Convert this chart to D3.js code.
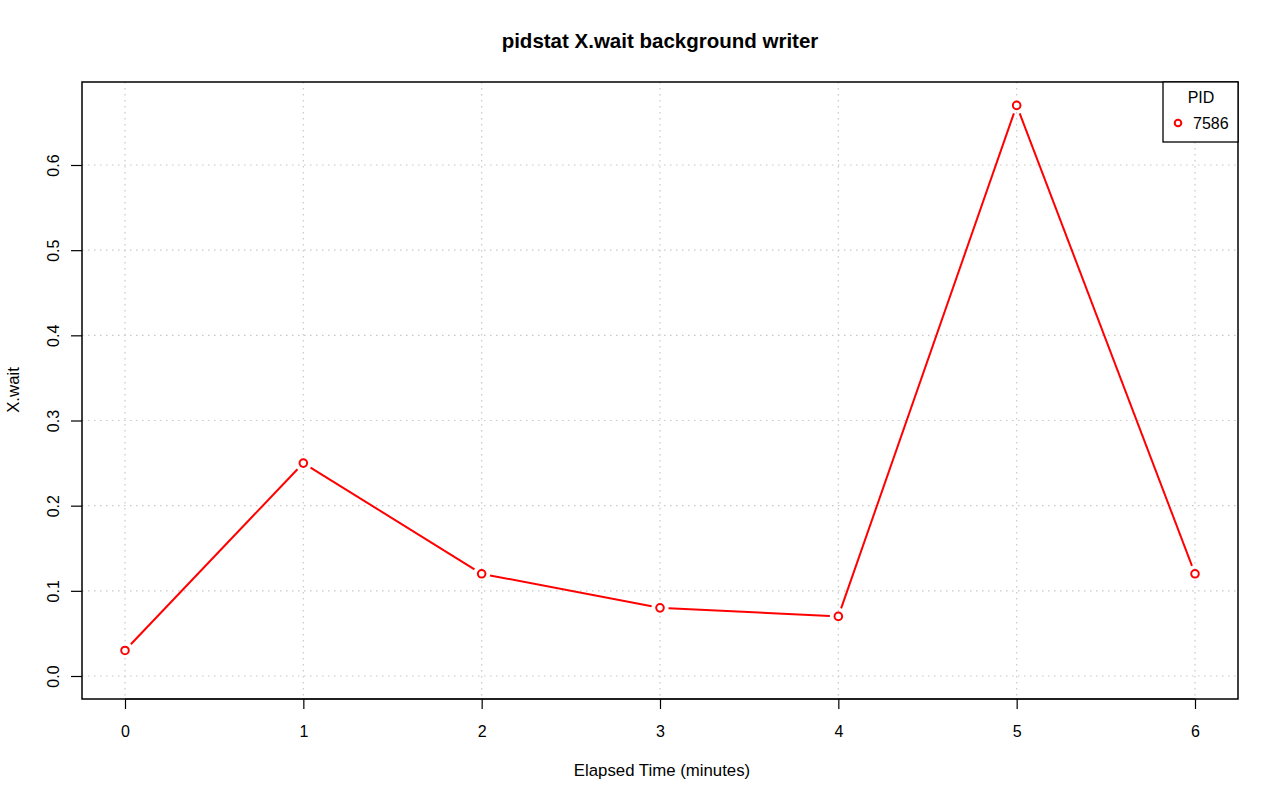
<!DOCTYPE html>
<html><head><meta charset="utf-8">
<script src="https://cdn.jsdelivr.net/npm/d3@7"></script>
<style>body{margin:0;background:#fff}svg{display:block;font-family:"Liberation Sans",Arial,sans-serif}</style>
</head><body><svg id="c" width="1280" height="801"></svg>
<script>
const minutes = [0, 1, 2, 3, 4, 5, 6];
const xwait = [0.03, 0.25, 0.12, 0.08, 0.07, 0.67, 0.12];
const xTicks = [0, 1, 2, 3, 4, 5, 6];
const yTicks = [0.0, 0.1, 0.2, 0.3, 0.4, 0.5, 0.6];
const seriesName = "7586";

const svg = d3.select("#c");
const box = {l: 82, r: 1238, t: 82, b: 699};
const x = d3.scaleLinear().domain([0, 6]).range([125, 1195]);
const y = d3.scaleLinear().domain([0, 0.6]).range([676, 165]);
const FS = 16;
const LFS = 16.8;

svg.append("rect").attr("width",1280).attr("height",801).attr("fill","#fff");

// grid
const g = svg.append("g").attr("stroke","#c8c8c8").attr("stroke-width",1.2).attr("stroke-dasharray","1.5,4.5");
xTicks.forEach(t=>g.append("line").attr("x1",x(t)).attr("x2",x(t)).attr("y1",box.t).attr("y2",box.b));
yTicks.forEach(t=>g.append("line").attr("x1",box.l).attr("x2",box.r).attr("y1",y(t)).attr("y2",y(t)));

// axes
const xa = svg.append("g").attr("transform",`translate(0,${box.b})`)
  .call(d3.axisBottom(x).tickValues(xTicks).tickFormat(d3.format("d")).tickSize(10).tickPadding(17));
const ya = svg.append("g").attr("transform",`translate(${box.l},0)`)
  .call(d3.axisLeft(y).tickValues(yTicks).tickFormat(d3.format(".1f")).tickSize(11).tickPadding(14));
[xa, ya].forEach(a=>{
  a.attr("font-size",null).attr("font-family",null);
  a.select(".domain").remove();
  a.selectAll(".tick line").attr("stroke","#000").attr("stroke-width",1.2);
  a.selectAll("text").attr("font-size",FS).attr("fill","#000");
});
svg.append("line").attr("x1",x(0)).attr("x2",x(6)).attr("y1",box.b).attr("y2",box.b).attr("stroke","#000").attr("stroke-width",1.2);
ya.selectAll(".tick text").attr("x",null).attr("text-anchor","middle")
  .attr("transform","translate(-29,0) rotate(-90)").attr("dy","0.35em");

// plot box
svg.append("rect").attr("x",box.l).attr("y",box.t).attr("width",box.r-box.l).attr("height",box.b-box.t)
  .attr("fill","none").attr("stroke","#000").attr("stroke-width",1.5);

// line segments with gaps (type "b")
const pts = minutes.map((m,i)=>[x(m), y(xwait[i])]);
const gap = 8.5;
const lg = svg.append("g").attr("stroke","#ff0000").attr("stroke-width",2);
for (let i=0;i<pts.length-1;i++){
  const [x1,y1]=pts[i],[x2,y2]=pts[i+1];
  const dx=x2-x1, dy=y2-y1, L=Math.hypot(dx,dy);
  const ux=dx/L, uy=dy/L;
  lg.append("line").attr("x1",x1+ux*gap).attr("y1",y1+uy*gap).attr("x2",x2-ux*gap).attr("y2",y2-uy*gap);
}
svg.append("g").selectAll("circle").data(pts).join("circle")
  .attr("cx",d=>d[0]).attr("cy",d=>d[1]).attr("r",3.8)
  .attr("fill","#fff").attr("stroke","#ff0000").attr("stroke-width",2);

// title & labels
svg.append("text").attr("x",660).attr("y",48).attr("text-anchor","middle").attr("font-size",20.5).attr("font-weight","bold").text("pidstat X.wait background writer");
svg.append("text").attr("x",662).attr("y",776).attr("text-anchor","middle").attr("font-size",LFS).text("Elapsed Time (minutes)");
svg.append("text").attr("transform","translate(19,390) rotate(-90)").attr("text-anchor","middle").attr("font-size",LFS).text("X.wait");

// legend
const lgx = 1163, lgy = 82, lgw = 75, lgh = 60;
svg.append("rect").attr("x",lgx).attr("y",lgy).attr("width",lgw).attr("height",lgh).attr("fill","#fff").attr("stroke","#000").attr("stroke-width",1.3);
svg.append("text").attr("x",1201).attr("y",103).attr("text-anchor","middle").attr("font-size",FS).text("PID");
svg.append("circle").attr("cx",1178).attr("cy",123).attr("r",3.3).attr("fill","#fff").attr("stroke","#ff0000").attr("stroke-width",2);
svg.append("text").attr("x",1193).attr("y",129).attr("font-size",FS).text(seriesName);
</script></body></html>
